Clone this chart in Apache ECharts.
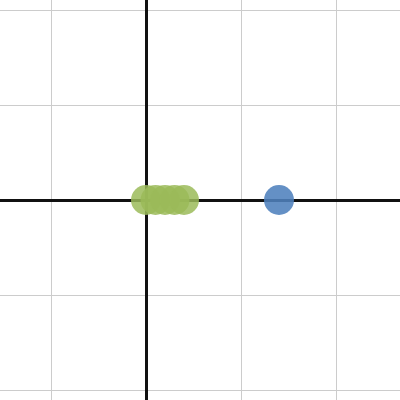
<!DOCTYPE html>
<html><head><meta charset="utf-8">
<script src="https://cdn.jsdelivr.net/npm/echarts@6/dist/echarts.min.js"></script>
<style>html,body{margin:0;padding:0;background:#fff}#c{width:400px;height:400px}</style>
</head><body><div id="c"></div>
<script>
const greenX = [0, 0.1, 0.2, 0.3, 0.4];
const greenY = [0, 0, 0, 0, 0];
const blueX = [1.4];
const blueY = [0];
const gridX = [-1, 1, 2];
const gridY = [-2, -1, 1, 2];
const chart = echarts.init(document.getElementById('c'));
const thin = {color:'#cccccc', width:1, type:'solid'};
chart.setOption({
  animation:false,
  grid:{left:0,right:0,top:0,bottom:0},
  xAxis:{type:'value',min:-146/95,max:254/95,axisLine:{show:false},axisTick:{show:false},axisLabel:{show:false},splitLine:{show:false}},
  yAxis:{type:'value',min:-200/95,max:200/95,axisLine:{show:false},axisTick:{show:false},axisLabel:{show:false},splitLine:{show:false}},
  series:[
    {type:'scatter',data:[],silent:true,markLine:{symbol:'none',silent:true,label:{show:false},
      data:[...gridX.map(v=>({xAxis:v,lineStyle:thin})),...gridY.map(v=>({yAxis:v,lineStyle:thin})),
        {xAxis:0,lineStyle:{color:'#111',width:3,type:'solid'}},{yAxis:0,lineStyle:{color:'#111',width:3,type:'solid'}}]}},
    {type:'scatter',symbolSize:30,data:blueX.map((v,i)=>[v,blueY[i]]),itemStyle:{color:'#4f81bd',opacity:0.88},z:5},
    {type:'scatter',symbolSize:30,data:greenX.map((v,i)=>[v,greenY[i]]),itemStyle:{color:'#9bbb59',opacity:0.85},z:5}
  ]
});
</script></body></html>
